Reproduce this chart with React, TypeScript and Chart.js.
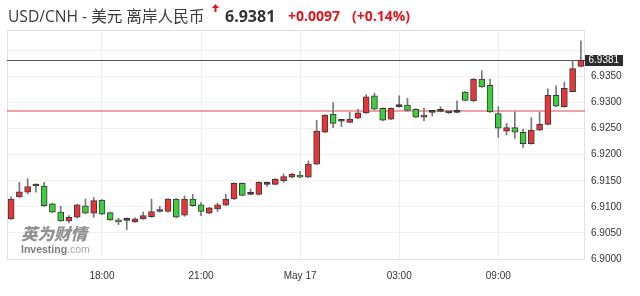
import React, { useEffect, useRef } from 'react';
import { Chart, registerables } from 'chart.js';

Chart.register(...registerables);

const times = [
  '15:15', '15:30', '15:45', '16:00', '16:15', '16:30', '16:45', '17:00', '17:15', '17:30',
  '17:45', '18:00', '18:15', '18:30', '18:45', '19:00', '19:15', '19:30', '19:45', '20:00',
  '20:15', '20:30', '20:45', '21:00', '21:15', '21:30', '21:45', '22:00', '22:15', '22:30',
  '22:45', '23:00', '23:15', '23:30', '23:45', '00:00', '00:15', '00:30', '00:45', '01:00',
  '01:15', '01:30', '01:45', '02:00', '02:15', '02:30', '02:45', '03:00', '03:30', '04:00',
  '04:30', '05:00', '05:30', '06:00', '06:30', '07:00', '07:30', '08:00', '08:30', '09:00',
  '09:30', '10:00', '10:30', '11:00', '11:30', '12:00', '12:30', '13:00', '13:30', '14:00',
];

const opens = [
  6.9077, 6.9119, 6.9128, 6.9140, 6.9140, 6.9106, 6.9090, 6.9073, 6.9080, 6.9102,
  6.9088, 6.9113, 6.9089, 6.9075, 6.9074, 6.9071, 6.9077, 6.9081, 6.9091, 6.9091,
  6.9115, 6.9084, 6.9115, 6.9104, 6.9088, 6.9096, 6.9103, 6.9115, 6.9145, 6.9124,
  6.9124, 6.9143, 6.9143, 6.9150, 6.9157, 6.9161, 6.9157, 6.9182, 6.9243, 6.9278,
  6.9264, 6.9262, 6.9270, 6.9280, 6.9313, 6.9289, 6.9268, 6.9292, 6.9295, 6.9287,
  6.9272, 6.9281, 6.9283, 6.9280, 6.9281, 6.9320, 6.9303, 6.9345, 6.9333, 6.9279,
  6.9245, 6.9252, 6.9243, 6.9221, 6.9247, 6.9258, 6.9314, 6.9292, 6.9321, 6.9369,
];
const highs = [
  6.9119, 6.9147, 6.9154, 6.9144, 6.9147, 6.9107, 6.9101, 6.9083, 6.9105, 6.9115,
  6.9118, 6.9114, 6.9090, 6.9078, 6.9079, 6.9079, 6.9090, 6.9115, 6.9101, 6.9116,
  6.9116, 6.9121, 6.9124, 6.9108, 6.9099, 6.9107, 6.9124, 6.9146, 6.9146, 6.9134,
  6.9148, 6.9148, 6.9154, 6.9163, 6.9164, 6.9168, 6.9188, 6.9266, 6.9277, 6.9300,
  6.9268, 6.9281, 6.9287, 6.9315, 6.9318, 6.9290, 6.9290, 6.9313, 6.9308, 6.9288,
  6.9289, 6.9282, 6.9292, 6.9281, 6.9303, 6.9321, 6.9346, 6.9361, 6.9345, 6.9292,
  6.9260, 6.9282, 6.9249, 6.9271, 6.9282, 6.9326, 6.9332, 6.9339, 6.9380, 6.9418,
];
const lows = [
  6.9076, 6.9118, 6.9125, 6.9128, 6.9101, 6.9089, 6.9072, 6.9069, 6.9078, 6.9087,
  6.9080, 6.9085, 6.9074, 6.9066, 6.9056, 6.9070, 6.9076, 6.9080, 6.9090, 6.9090,
  6.9079, 6.9082, 6.9101, 6.9083, 6.9087, 6.9091, 6.9102, 6.9114, 6.9121, 6.9123,
  6.9123, 6.9139, 6.9142, 6.9147, 6.9156, 6.9156, 6.9156, 6.9181, 6.9242, 6.9252,
  6.9254, 6.9261, 6.9269, 6.9279, 6.9286, 6.9265, 6.9267, 6.9291, 6.9284, 6.9271,
  6.9265, 6.9274, 6.9282, 6.9279, 6.9280, 6.9303, 6.9302, 6.9329, 6.9281, 6.9233,
  6.9238, 6.9231, 6.9214, 6.9220, 6.9246, 6.9257, 6.9292, 6.9291, 6.9320, 6.9368,
];
const closes = [
  6.9115, 6.9129, 6.9139, 6.9140, 6.9102, 6.9090, 6.9073, 6.9080, 6.9104, 6.9088,
  6.9112, 6.9086, 6.9075, 6.9071, 6.9074, 6.9077, 6.9083, 6.9091, 6.9091, 6.9115,
  6.9080, 6.9115, 6.9102, 6.9091, 6.9098, 6.9104, 6.9115, 6.9145, 6.9122, 6.9124,
  6.9147, 6.9143, 6.9153, 6.9158, 6.9163, 6.9157, 6.9182, 6.9245, 6.9276, 6.9260,
  6.9264, 6.9268, 6.9280, 6.9311, 6.9287, 6.9266, 6.9289, 6.9292, 6.9285, 6.9272,
  6.9276, 6.9281, 6.9283, 6.9280, 6.9281, 6.9304, 6.9345, 6.9330, 6.9282, 6.9251,
  6.9252, 6.9243, 6.9221, 6.9247, 6.9258, 6.9314, 6.9293, 6.9327, 6.9365, 6.9381,
];

const prevClose = 6.9284;
const lastPrice = 6.9381;
const tickTimes = ['18:00', '21:00', '00:00', '03:00', '09:00'];
const tickTexts = ['18:00', '21:00', 'May 17', '03:00', '09:00'];
const yMin = 6.9;
const yMax = 6.9439;
const yStep = 0.005;

const UP = '#e8353a';
const DOWN = '#3dce3d';
const FLAT = '#333333';
const AXIS_FONT = 'Arial, "Liberation Sans", sans-serif';

export default function App() {
  const ref = useRef<HTMLCanvasElement | null>(null);

  useEffect(() => {
    document.body.style.margin = '0';
    const canvas = ref.current;
    if (!canvas) return;

    const overlay = {
      id: 'overlay',
      beforeDatasetsDraw(chart: any) {
        const { ctx, chartArea } = chart;
        const y = chart.scales.y;
        ctx.save();
        ctx.lineWidth = 1;
        ctx.strokeStyle = '#e2e2e2';
        ctx.strokeRect(chartArea.left + 0.5, chartArea.top + 0.5, chartArea.right - chartArea.left - 1, chartArea.bottom - chartArea.top);
        const ly = Math.round(y.getPixelForValue(lastPrice)) + 0.5;
        ctx.strokeStyle = '#555555';
        ctx.beginPath();
        ctx.moveTo(chartArea.left, ly);
        ctx.lineTo(chartArea.right, ly);
        ctx.stroke();
        const py = Math.round(y.getPixelForValue(prevClose));
        ctx.strokeStyle = '#e04850';
        ctx.lineWidth = 1.2;
        ctx.beginPath();
        ctx.moveTo(chartArea.left, py);
        ctx.lineTo(chartArea.right, py);
        ctx.stroke();
        ctx.restore();
      },
      afterDraw(chart: any) {
        const { ctx, chartArea } = chart;
        const y = chart.scales.y;
        const ly = y.getPixelForValue(lastPrice);
        ctx.save();
        ctx.fillStyle = '#2c2c2c';
        ctx.fillRect(chartArea.right, Math.round(ly) - 5, 38, 11);
        ctx.fillStyle = '#ffffff';
        ctx.font = '10px ' + AXIS_FONT;
        ctx.textBaseline = 'middle';
        ctx.textAlign = 'left';
        ctx.fillText(lastPrice.toFixed(4), chartArea.right + 3.5, Math.round(ly) + 0.5);
        ctx.restore();
      },
    };

    const colorFor = (i: number) =>
      closes[i] > opens[i] ? UP : closes[i] < opens[i] ? DOWN : FLAT;

    const chart = new Chart(canvas, {
      type: 'bar',
      data: {
        labels: times,
        datasets: [
          {
            label: 'body',
            data: opens.map((o, i) => [o, closes[i]]) as any,
            backgroundColor: (c: any) => colorFor(c.dataIndex),
            borderColor: (c: any) => (colorFor(c.dataIndex) === FLAT ? FLAT : '#3a3a3a'),
            borderWidth: 1,
            borderSkipped: false,
            barThickness: 6,
            minBarLength: 2,
            grouped: false,
            order: 0,
          } as any,
          {
            label: 'wick',
            data: lows.map((l, i) => [l, highs[i]]) as any,
            backgroundColor: '#787878',
            borderWidth: 0,
            barThickness: 1,
            grouped: false,
            order: 1,
          } as any,
        ],
      },
      options: {
        responsive: false,
        animation: false,
        devicePixelRatio: 1,
        layout: { padding: { left: 7, top: 30, right: 0, bottom: 0 } },
        plugins: {
          legend: { display: false },
          tooltip: { enabled: false },
        },
        scales: {
          x: {
            type: 'category',
            offset: true,
            grid: {
              offset: false,
              drawTicks: false,
              color: (c: any) => (tickTimes.includes(times[c.index]) ? '#ededed' : 'rgba(0,0,0,0)'),
            },
            border: { display: false },
            ticks: {
              autoSkip: false,
              maxRotation: 0,
              minRotation: 0,
              padding: 11,
              color: '#333333',
              font: { size: 10, family: AXIS_FONT },
              callback: (_v: any, i: number) => {
                const k = tickTimes.indexOf(times[i]);
                return k >= 0 ? tickTexts[k] : '';
              },
            },
            afterFit: (s: any) => {
              s.height = 37;
            },
          },
          y: {
            position: 'right',
            min: yMin,
            max: yMax,
            grid: { color: '#f1f1f1', drawTicks: false },
            border: { display: false },
            ticks: {
              stepSize: yStep,
              includeBounds: false,
              padding: 6,
              color: '#333333',
              font: { size: 10, family: AXIS_FONT },
              callback: (v: any) => (Number(v) > 6.9375 ? '' : Number(v).toFixed(4)),
            },
            afterFit: (s: any) => {
              s.width = 55;
            },
          },
        },
      } as any,
      plugins: [overlay],
    });

    return () => chart.destroy();
  }, []);

  const titleFont = '"Open Sans", "Noto Sans CJK SC", sans-serif';

  return (
    <div style={{ position: 'relative', width: 640, height: 296, background: '#ffffff', overflow: 'hidden' }}>
      <canvas ref={ref} width={640} height={296} style={{ position: 'absolute', left: 0, top: 0, width: 640, height: 296 }} />
      <div style={{ position: 'absolute', left: 8, top: 5, lineHeight: '22px', fontFamily: titleFont, fontSize: 15.6, color: '#3a3a3a', whiteSpace: 'nowrap' }}>
        USD/CNH - 美元 离岸人民币
      </div>
      <svg style={{ position: 'absolute', left: 212, top: 4 }} width="7" height="8" viewBox="0 0 7 8">
        <polygon points="3.5,0 7,4 4.5,4 4.5,8 2.5,8 2.5,4 0,4" fill="#e8131a" />
      </svg>
      <div style={{ position: 'absolute', left: 225, top: 5, lineHeight: '22px', fontFamily: titleFont, fontSize: 16, fontWeight: 700, color: '#333333', whiteSpace: 'nowrap' }}>
        6.9381
      </div>
      <div style={{ position: 'absolute', left: 288, top: 5, lineHeight: '22px', fontFamily: titleFont, fontSize: 14, fontWeight: 700, color: '#e8131a', whiteSpace: 'nowrap' }}>
        +0.0097
      </div>
      <div style={{ position: 'absolute', left: 352, top: 5, lineHeight: '22px', fontFamily: titleFont, fontSize: 14, fontWeight: 700, color: '#e8131a', whiteSpace: 'nowrap' }}>
        (+0.14%)
      </div>
      <div style={{ position: 'absolute', left: 21, top: 223, pointerEvents: 'none', opacity: 0.85 }}>
        <div style={{ fontFamily: '"Noto Sans CJK SC", sans-serif', fontWeight: 900, fontSize: 16.5, lineHeight: '21px', color: '#7e7e7e', fontStyle: 'italic', letterSpacing: 0 }}>
          英为财情
        </div>
        <div style={{ fontFamily: AXIS_FONT, fontSize: 10.5, lineHeight: '11px', whiteSpace: 'nowrap' }}>
          <span style={{ fontWeight: 700, color: '#666666' }}>Investing</span>
          <span style={{ color: '#999999' }}>.com</span>
        </div>
      </div>
    </div>
  );
}
